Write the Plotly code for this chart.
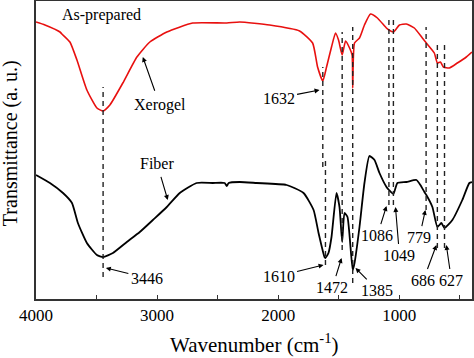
import plotly.graph_objects as go

# ---- data (wavenumber in cm^-1, transmittance in arbitrary units) ----
xerogel_wn = [4000, 3926, 3802, 3786, 3720, 3662, 3580, 3497, 3446, 3390, 3283, 3167, 3060, 2920,
              2706, 2425, 2318, 2071, 1824, 1716, 1675, 1632, 1601, 1560, 1527, 1502, 1472, 1444,
              1411, 1390, 1385, 1370, 1329, 1288, 1238, 1181, 1107, 1086, 1049, 999, 942, 876,
              810, 777, 711, 686, 661, 636, 587, 521, 447, 400]
xerogel_t = [278, 275, 268, 266, 258, 240, 210, 192, 189, 195, 217, 243, 258, 268,
             277, 277, 278, 275, 269, 257, 233, 219, 233, 253, 267, 260, 245, 259,
             252, 245, 212, 257, 262, 275, 286, 282, 272, 270, 268, 275, 276, 272,
             262, 257, 247, 237, 238, 233, 232, 237, 243, 248]

fiber_wn = [4000, 3885, 3777, 3703, 3654, 3580, 3497, 3446, 3365, 3250, 3143, 3035, 2920, 2813,
            2673, 2541, 2442, 2425, 2409, 2318, 2178, 1931, 1791, 1708, 1667, 1618, 1610, 1585,
            1560, 1519, 1494, 1472, 1453, 1428, 1385, 1370, 1329, 1288, 1247, 1205, 1164, 1106,
            1086, 1049, 1016, 942, 859, 826, 793, 777, 727, 686, 653, 627, 562, 480, 422, 400]
fiber_t = [125, 117, 107, 97, 77, 57, 45, 43, 47, 58, 68, 80, 93, 107,
           117, 117, 117, 114, 117, 118, 117, 115, 107, 90, 67, 43, 42, 47,
           63, 107, 93, 58, 87, 83, 30, 37, 73, 117, 144, 140, 127, 113,
           110, 106, 117, 118, 120, 115, 108, 105, 93, 73, 77, 72, 80, 100, 117, 118]

# dashed marker lines: position, top, bottom
peak_pos = [3446, 1632, 1610, 1472, 1385, 1086, 1049, 779, 686, 627]
peak_top = [213, 233, 140, 268, 273, 284, 282, 273, 257, 257]
peak_bot = [23, 133, 35, 50, 17, 95, 95, 90, 52, 52]

# peak labels: text, text position, arrow tip
label_text = ["3446", "1632", "1610", "1472", "1385", "1086", "1049", "779", "686", "627"]
label_x = [3085, 1997, 1997, 1552, 1181, 1181, 999, 834, 801, 570]
label_y = [22, 202, 24, 13, 10, 65, 45, 63, 20, 20]
tip_x = [3423, 1659, 1626, 1477, 1362, 1106, 1032, 785, 694, 612]
tip_y = [32, 210, 35, 42, 32, 94, 93, 90, 55, 55]

# series labels (text position, arrow tip or None)
series_text = ["As-prepared", "Xerogel", "Fiber"]
series_x = [3456, 2978, 3002]
series_y = [285, 195, 137]
series_tip_x = [None, 3118, 2912]
series_tip_y = [None, 243, 100]

FONT = "Liberation Serif"

fig = go.Figure()
fig.add_trace(go.Scatter(x=xerogel_wn, y=xerogel_t, mode="lines",
                         line=dict(color="#e8100f", width=1.6, shape="spline", smoothing=0.5),
                         name="Xerogel", showlegend=False))
fig.add_trace(go.Scatter(x=fiber_wn, y=fiber_t, mode="lines",
                         line=dict(color="#000000", width=1.8, shape="spline", smoothing=0.5),
                         name="Fiber", showlegend=False))

for p, t, b in zip(peak_pos, peak_top, peak_bot):
    fig.add_shape(type="line", xref="x", yref="y", x0=p, x1=p, y0=b, y1=t,
                  line=dict(color="#222222", width=1.4, dash="5px,4px"))

annotations = []
for txt, lx, ly, tx, ty in zip(label_text, label_x, label_y, tip_x, tip_y):
    annotations.append(dict(x=tx, y=ty, ax=lx, ay=ly, xref="x", yref="y", axref="x", ayref="y",
                            text=txt, showarrow=True, arrowhead=2, arrowsize=0.9, arrowwidth=1.1,
                            arrowcolor="#000", standoff=0, startstandoff=1,
                            font=dict(family=FONT, size=16, color="#000")))
for txt, lx, ly, tx, ty in zip(series_text, series_x, series_y, series_tip_x, series_tip_y):
    if tx is None:
        annotations.append(dict(x=lx, y=ly, xref="x", yref="y", text=txt, showarrow=False,
                                font=dict(family=FONT, size=16, color="#000")))
    else:
        annotations.append(dict(x=tx, y=ty, ax=lx, ay=ly, xref="x", yref="y", axref="x",
                                ayref="y", text=txt, showarrow=True, arrowhead=2, arrowsize=0.9,
                                arrowwidth=1.1, arrowcolor="#000", standoff=0, startstandoff=4,
                                font=dict(family=FONT, size=16, color="#000")))

# axis titles as paper-positioned text
annotations.append(dict(x=0.502, y=-0.150, xref="paper", yref="paper", showarrow=False,
                        text="Wavenumber (cm<sup>-1</sup>)", xanchor="center", yanchor="middle",
                        font=dict(family=FONT, size=21, color="#000")))
annotations.append(dict(x=-0.0596, y=0.523, xref="paper", yref="paper", showarrow=False,
                        text="Transmittance (a. u.)", textangle=-90,
                        xanchor="center", yanchor="middle",
                        font=dict(family=FONT, size=20, color="#000")))

fig.update_layout(
    width=474, height=358, autosize=False, showlegend=False,
    margin=dict(l=36, r=2, t=1, b=59, pad=0),
    paper_bgcolor="white", plot_bgcolor="white",
    font=dict(family=FONT, color="#000"),
    annotations=annotations,
    xaxis=dict(range=[4000, 400], tick0=0, dtick=1000, automargin=False, domain=[0, 1],
               ticks="inside", ticklen=4, tickwidth=1.3, tickcolor="#333",
               minor=dict(dtick=500, ticks="inside", ticklen=4, tickwidth=1.3, tickcolor="#333"),
               showline=True, linecolor="#333", linewidth=1.5, mirror=True,
               showgrid=False, zeroline=False,
               tickfont=dict(family=FONT, size=17, color="#000")),
    yaxis=dict(range=[1, 299], showticklabels=False, ticks="", automargin=False, domain=[0, 1],
               showline=True, linecolor="#333", linewidth=1.5, mirror=True,
               showgrid=False, zeroline=False),
)

fig.write_html("out.html", config={"displayModeBar": False},
               post_script="document.body.style.margin='0';document.body.style.overflow='hidden';")
